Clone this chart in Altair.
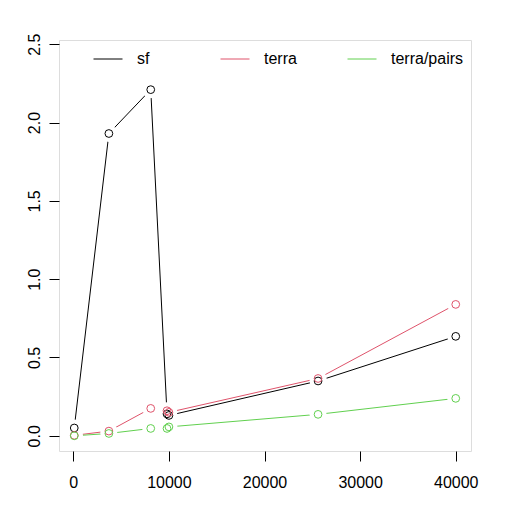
import altair as alt
import pandas as pd

# grid sizes (number of cells) and elapsed times [s]
x_vals = [100, 3721, 8100, 9801, 10000, 25600, 40000]
sf_vals = [0.05, 1.93, 2.21, 0.14, 0.13, 0.35, 0.635]
terra_vals = [0.003, 0.03, 0.175, 0.16, 0.15, 0.366, 0.839]
pairs_vals = [0.0, 0.015, 0.047, 0.047, 0.057, 0.137, 0.239]
series = ["sf", "terra", "terra/pairs"]
colors = ["#000000", "#DF536B", "#61D04F"]
x_ticks = [0, 10000, 20000, 30000, 40000]
y_ticks = [0.0, 0.5, 1.0, 1.5, 2.0, 2.5]

rows = []
for name, vals in zip(series, [sf_vals, terra_vals, pairs_vals]):
    for i, (xv, yv) in enumerate(zip(x_vals, vals)):
        rows.append({"n": xv, "t": yv, "method": name, "idx": i})
df = pd.DataFrame(rows)

FONT = "Liberation Sans"

x_enc = alt.X(
    "n:Q",
    scale=alt.Scale(domain=[-1496, 41596], nice=False, zero=False),
    axis=alt.Axis(
        values=x_ticks, format="d", title=None, grid=False, domain=False,
        tickSize=10, tickColor="black", labelFontSize=16, labelColor="black",
        labelPadding=13, labelFont=FONT, labelFlush=False,
    ),
)
y_enc = alt.Y(
    "t:Q",
    scale=alt.Scale(domain=[-0.097, 2.527], nice=False, zero=False),
    axis=alt.Axis(
        values=y_ticks, format=".1f", title="time [s]", grid=False, domain=False,
        tickSize=10, tickColor="black", labelFontSize=16, labelColor="black",
        labelAngle=270, labelAlign="center", labelBaseline="alphabetic",
        labelPadding=10, labelFont=FONT, labelFlush=False,
        titleFontSize=16, titleFontWeight="normal", titleColor="black",
        titleFont=FONT, titleAngle=270, titleAlign="center",
        titleBaseline="alphabetic", titleX=-57, titleY=205,
    ),
)

color_scale = alt.Scale(domain=series, range=colors)

lines = alt.Chart(df).mark_line(strokeWidth=1).encode(
    x=x_enc,
    y=y_enc,
    order="idx:O",
    color=alt.Color(
        "method:N",
        scale=color_scale,
        legend=alt.Legend(
            title=None, orient="none", legendX=34, legendY=4,
            direction="horizontal", columns=3, gridAlign="all",
            columnPadding=8, symbolType="stroke", symbolSize=841,
            symbolStrokeWidth=1, labelFontSize=16, labelOffset=14,
            labelColor="black", labelFont=FONT, padding=0,
        ),
    ),
)

masks = alt.Chart(df).mark_circle(color="white", size=290, opacity=1).encode(
    x="n:Q", y="t:Q"
)

circles = alt.Chart(df).mark_point(
    shape="circle", filled=False, size=60, strokeWidth=1, opacity=1
).encode(
    x="n:Q",
    y="t:Q",
    stroke=alt.Stroke("method:N", scale=alt.Scale(domain=series, range=colors), legend=None),
)

chart = (
    alt.layer(lines, masks, circles)
    .properties(
        width=412,
        height=411,
        autosize=alt.AutoSizeParams(type="none"),
        padding={"left": 51, "top": 32, "right": 20, "bottom": 40},
        background="white",
    )
    .configure_view(stroke="black", strokeWidth=1)
    .configure(font=FONT)
)

chart.save("out.html", embed_options={"renderer": "svg", "actions": False})
